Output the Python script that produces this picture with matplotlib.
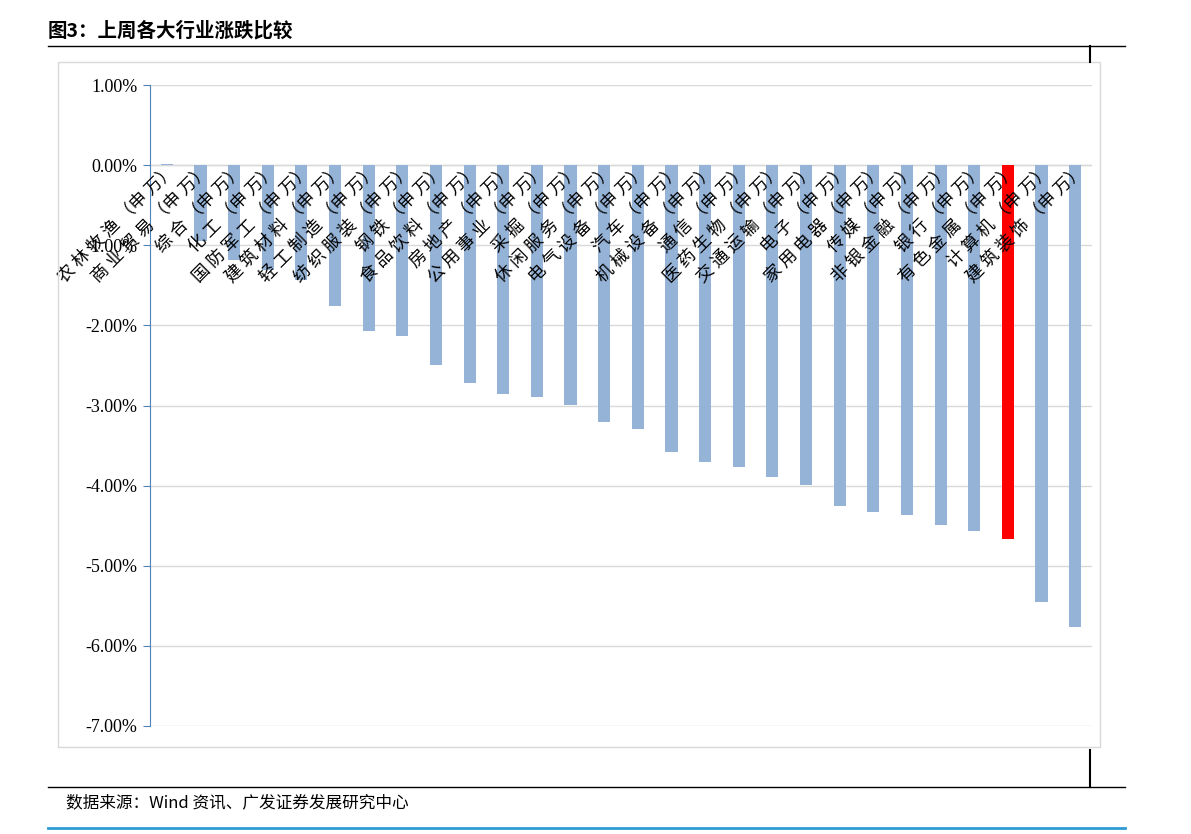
import matplotlib
matplotlib.use("Agg")
import matplotlib.pyplot as plt
from matplotlib.patches import Rectangle
from matplotlib.lines import Line2D

plt.rcParams['font.family'] = ['Noto Sans CJK SC', 'DejaVu Sans']

categories = ["农林牧渔", "商业贸易", "综合", "化工", "国防军工", "建筑材料", "轻工制造",
              "纺织服装", "钢铁", "食品饮料", "房地产", "公用事业", "采掘", "休闲服务",
              "电气设备", "汽车", "机械设备", "通信", "医药生物", "交通运输", "电子",
              "家用电器", "传媒", "非银金融", "银行", "有色金属", "计算机", "建筑装饰"]
values = [0.01, -0.95, -1.18, -1.31, -1.43, -1.76, -2.07, -2.13, -2.49, -2.72, -2.86,
          -2.90, -2.99, -3.21, -3.29, -3.58, -3.71, -3.77, -3.89, -3.99, -4.26, -4.33,
          -4.37, -4.49, -4.57, -4.66, -5.45, -5.77]
highlight_index = 25
yticks = [1, 0, -1, -2, -3, -4, -5, -6, -7]

W, H = 1191, 834
fig = plt.figure(figsize=(W/100, H/100), dpi=100)

def fx(x): return x / W
def fy(y): return 1 - y / H

ax = fig.add_axes([fx(150), fy(726), fx(1092-150), fy(85) - fy(726)])
colors = ['#95B3D7'] * len(values)
colors[highlight_index] = '#FF0000'
x = list(range(len(values)))
ax.bar(x, values, width=0.36, color=colors, zorder=3)
ax.set_xlim(-0.5, len(values) - 0.5)
ax.set_ylim(-7, 1)
ax.set_yticks(yticks)
ax.set_yticklabels([f"{v:.2f}%" for v in yticks], fontfamily='Liberation Serif', fontsize=13)
ax.yaxis.grid(True, color='#D9D9D9', lw=1, zorder=0)
for s in ['top', 'right', 'bottom']:
    ax.spines[s].set_visible(False)
ax.spines['left'].set_color('#4F81BD')
ax.tick_params(axis='y', length=5, color='#4F81BD', pad=4)
ax.set_xticks([])
ax.axhline(0, color='#D9D9D9', lw=1, zorder=1)
for i, c in enumerate(categories):
    label = " ".join(c + "（申万）").replace("（ ", "（").replace(" ）", "）")
    ax.text(i - 0.02, 0.05, label, rotation=45, ha='right', va='top',
            fontsize=12.5, rotation_mode='anchor', zorder=4,
            transform=ax.transData)

fig.patches.append(Rectangle((fx(58), fy(747)), fx(1100-58), fy(62)-fy(747),
                             transform=fig.transFigure, fill=False, ec='#D9D9D9', lw=1))
fig.text(fx(48), fy(31), "图3：上周各大行业涨跌比较", fontsize=14, fontweight='bold', va='center')
fig.text(fx(48), fy(1), "数据来源：Wind资讯、广发证券发展研究中心", fontsize=10, va='bottom')
fig.text(fx(610), fy(1), "数据来源：Wind资讯、广发证券发展研究中心", fontsize=10, va='bottom')
fig.lines.append(Line2D([fx(48), fx(1125)], [fy(46), fy(46)], transform=fig.transFigure, color='black', lw=1))
fig.lines.append(Line2D([fx(48), fx(1125)], [fy(787), fy(787)], transform=fig.transFigure, color='black', lw=1))
fig.lines.append(Line2D([fx(1090), fx(1090)], [fy(46), fy(62)], transform=fig.transFigure, color='black', lw=1.5))
fig.lines.append(Line2D([fx(1090), fx(1090)], [fy(750), fy(787)], transform=fig.transFigure, color='black', lw=1.5))
fig.lines.append(Line2D([fx(48), fx(1125)], [fy(828), fy(828)], transform=fig.transFigure, color='#2E9BD6', lw=2))
fig.text(fx(66), fy(803), "数据来源：Wind 资讯、广发证券发展研究中心", fontsize=12, va='center')

fig.savefig("out.png", dpi=100)
